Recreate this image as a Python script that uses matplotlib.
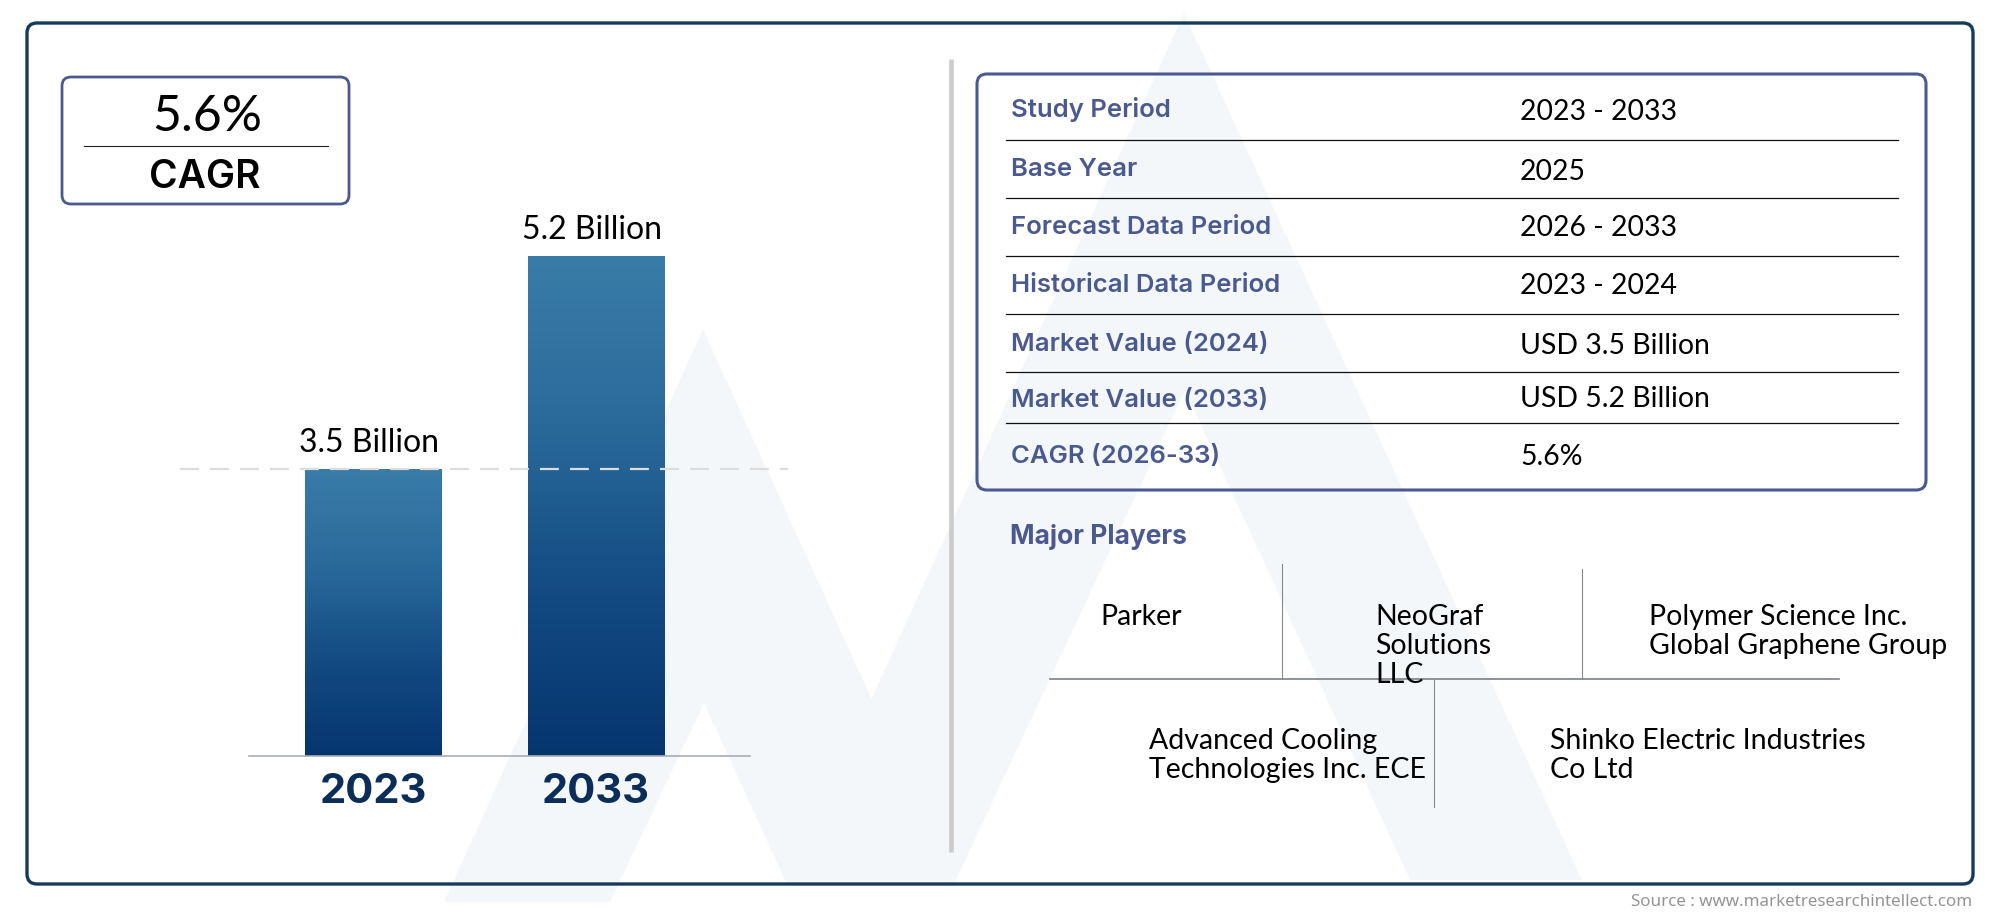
import numpy as np
import matplotlib
matplotlib.use('Agg')
import matplotlib.pyplot as plt
from matplotlib.colors import LinearSegmentedColormap
from matplotlib.patches import FancyBboxPatch, PathPatch
from matplotlib.path import Path

# Chart data
years = ['2023', '2033']
bar_labels = ['3.5 Billion', '5.2 Billion']
# heights as drawn in the picture, the bars are not to scale with the labels
bar_heights = [225, 392]
reference_level = 225

table_labels = ['Study Period', 'Base Year', 'Forecast Data Period', 'Historical Data Period',
                'Market Value (2024)', 'Market Value (2033)', 'CAGR (2026-33)']
table_values = ['2023 - 2033', '2025', '2026 - 2033', '2023 - 2024',
                'USD 3.5 Billion', 'USD 5.2 Billion', '5.6%']
players = ['Parker', 'NeoGraf\nSolutions\nLLC', 'Polymer Science Inc.\nGlobal Graphene Group',
           'Advanced Cooling\nTechnologies Inc. ECE', 'Shinko Electric Industries\nCo Ltd']

NAVY = '#163a5a'
BLUE = '#4a5a90'
BODY_FONT = 'Lato'
HEAD_FONT = 'Inter'

fig = plt.figure(figsize=(20, 9.17), dpi=100)

# Full figure axes in pixel coordinates for the frames, table and watermark
bg = fig.add_axes([0, 0, 1, 1])
bg.set_xlim(0, 2000)
bg.set_ylim(917, 0)
bg.axis('off')

# Watermark logo
mark_color = '#f4f7fa'
left_a = Path([(444, 902), (703, 329), (955, 882), (786, 882), (704, 703), (610, 902), (444, 902)])
big_a = Path([(788, 882), (1184, 13), (1582, 880), (1410, 880), (1185, 390), (955, 882), (788, 882)])
bg.add_patch(PathPatch(left_a, facecolor=mark_color, edgecolor='none', zorder=0))
bg.add_patch(PathPatch(big_a, facecolor=mark_color, edgecolor='none', zorder=0))


def rounded_box(x0, y0, x1, y1, color, lw, r):
    bg.add_patch(FancyBboxPatch((x0 + r, y0 + r), x1 - x0 - 2 * r, y1 - y0 - 2 * r,
                                boxstyle=f'round,pad={r},rounding_size={r}',
                                facecolor='none', edgecolor=color, linewidth=lw, zorder=2))


# Outer frame and divider
rounded_box(27, 23, 1973, 884, NAVY, 2.4, 10)
bg.plot([950.5, 950.5], [59, 852], color='#cccccc', lw=3.3, solid_capstyle='butt', zorder=1)

# CAGR box
rounded_box(62, 77, 349, 204, BLUE, 2.0, 9)
bg.plot([84, 328], [146, 146], color='#222222', lw=0.8)
bg.text(207, 117, '5.6%', family=BODY_FONT, fontsize=36, ha='center', va='center', color='black')
bg.text(205, 177, 'CAGR', family=HEAD_FONT, fontweight='semibold', fontsize=28, ha='center', va='center', color='black')

# Table
rounded_box(977, 74, 1926, 490, BLUE, 2.2, 10)
label_y = [110, 170, 228, 286, 344, 400, 457]
value_y = [112, 172, 228, 286, 346, 399, 457]
for y, label in zip(label_y, table_labels):
    bg.text(1011, y, label, family=HEAD_FONT, fontweight='semibold', fontsize=18.5, color=BLUE, ha='left', va='center')
for y, value in zip(value_y, table_values):
    bg.text(1520, y, value, family=BODY_FONT, fontsize=20.4, color='black', ha='left', va='center')
for y in [140, 198, 256, 314, 372, 423]:
    bg.plot([1006, 1898], [y, y], color='#111111', lw=0.9)

# Major players
bg.text(1010, 537, 'Major Players', family=HEAD_FONT, fontweight='bold', fontsize=19, color=BLUE, ha='left', va='center')
bg.plot([1050, 1839], [679, 679], color='#7c7f85', lw=1.2)
bg.plot([1282, 1282], [564, 679], color='#85888c', lw=0.8)
bg.plot([1582, 1582], [569, 679], color='#85888c', lw=0.8)
bg.plot([1434, 1434], [680, 807], color='#85888c', lw=0.8)

player_x = [1100, 1375, 1649, 1149, 1550]
player_y = [604, 604, 604, 728, 728]
for x, y, name in zip(player_x, player_y, players):
    bg.text(x, y, name, family=BODY_FONT, fontsize=20.5, color='black', ha='left', va='top', linespacing=1.15)

# Source
bg.text(1972, 902, 'Source : www.marketresearchintellect.com', family='Noto Sans', fontsize=12.2,
        color='#949494', ha='right', va='center')

# Bar chart
ax = fig.add_axes([249 / 2000, 1 - 756 / 917, (750 - 249) / 2000, 500 / 917])
ax.patch.set_alpha(0)
bar_cmap = LinearSegmentedColormap.from_list('bars', ['#3a7ca8', '#2a6a9b', '#134b82', '#06356e'])
gradient = np.linspace(0, 1, 256).reshape(-1, 1)
positions = np.arange(len(years))
width = 0.61
bars = ax.bar(positions, bar_heights, width=width, color='none', zorder=1)
for bar, label in zip(bars, bar_labels):
    x0 = bar.get_x()
    h = bar.get_height()
    ax.imshow(gradient, extent=[x0, x0 + width, 0, h], aspect='auto', cmap=bar_cmap, zorder=2)
    ax.annotate(label, (x0 + width / 2, h), xytext=(-3, 8), textcoords='offset points', ha='center', va='bottom',
                family=BODY_FONT, fontsize=23, color='black', annotation_clip=False)
ax.plot([-0.865, 1.861], [reference_level, reference_level], color='#dcdcdc', lw=1.6,
        dashes=(8.5, 5), clip_on=False, zorder=3)
ax.set_xlim(-0.556, 1.691)
ax.set_ylim(0, max(bar_heights))
ax.set_xticks(positions)
ax.set_xticklabels(years, family=HEAD_FONT, fontweight='bold', fontsize=30, color='#0b2e59')
ax.set_yticks([])
ax.tick_params(axis='x', length=0, pad=12)
for side in ['top', 'left', 'right']:
    ax.spines[side].set_visible(False)
ax.spines['bottom'].set_color('#a8adb5')
ax.spines['bottom'].set_linewidth(1.2)

fig.savefig('out.png', dpi=100)
